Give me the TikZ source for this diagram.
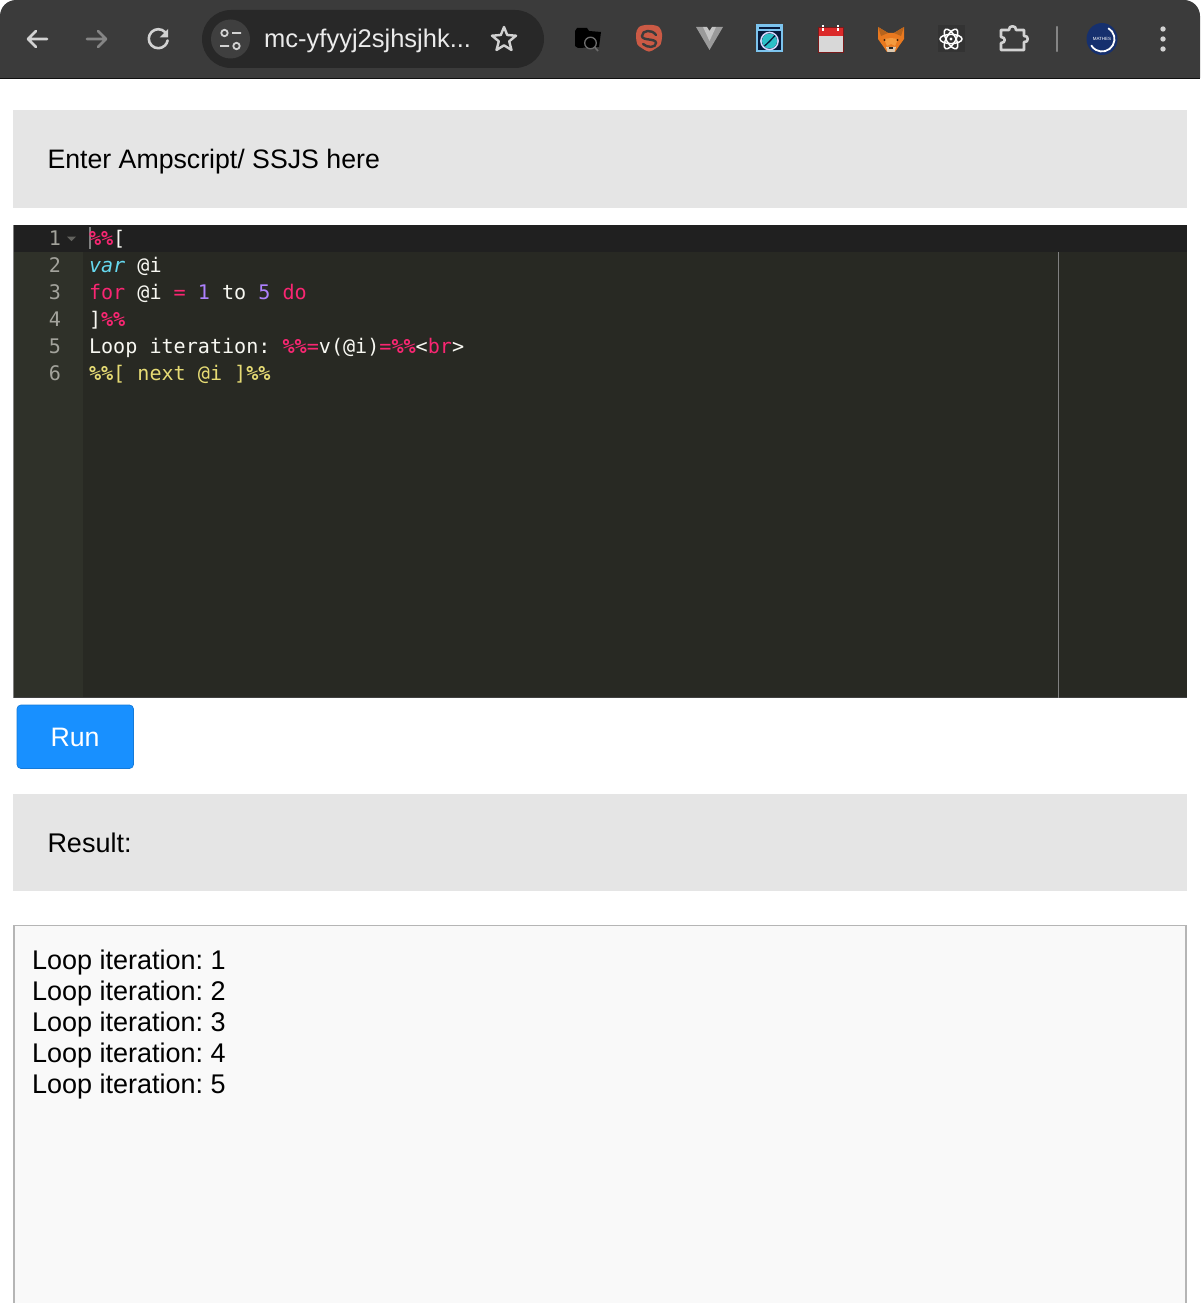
\documentclass[tikz,border=0pt]{standalone}
\usepackage{fontspec}
\setmainfont{Liberation Sans}
\newfontfamily\codefont{DejaVu Sans Mono}
\definecolor{barbg}{HTML}{3B3B3B}
\definecolor{pillbg}{HTML}{282828}
\definecolor{pillcirc}{HTML}{3F3F3F}
\definecolor{iconfg}{HTML}{D2D2D2}
\definecolor{icondim}{HTML}{858585}
\definecolor{headbg}{HTML}{E5E5E5}
\definecolor{edbg}{HTML}{282923}
\definecolor{gutter}{HTML}{2F3129}
\definecolor{activeln}{HTML}{202020}
\definecolor{lnnum}{HTML}{A3A39C}
\definecolor{mpink}{HTML}{F92672}
\definecolor{mblue}{HTML}{66D9EF}
\definecolor{mpurple}{HTML}{AE81FF}
\definecolor{myellow}{HTML}{E6DB74}
\definecolor{mwhite}{HTML}{F8F8F2}
\definecolor{runblue}{HTML}{1890FF}
\definecolor{resultbg}{HTML}{F9F9F9}
\definecolor{resultbd}{HTML}{B5B5B5}
\definecolor{shieldc}{HTML}{CB5A45}
\definecolor{vouter}{HTML}{9A9A9A}
\definecolor{vinner}{HTML}{C4C4C4}
\definecolor{winblue}{HTML}{7CC4EE}
\definecolor{windark}{HTML}{071A3C}
\definecolor{winteal}{HTML}{2CC0C8}
\definecolor{calgrey}{HTML}{D8D8D8}
\definecolor{calred}{HTML}{DB2A2A}
\definecolor{calrim}{HTML}{7A1A1A}
\definecolor{foxa}{HTML}{E9791F}
\definecolor{foxb}{HTML}{F59A3E}
\definecolor{foxd}{HTML}{B8641C}
\definecolor{foxc}{HTML}{DCC8AF}
\definecolor{atombg}{HTML}{333333}
\definecolor{avatarc}{HTML}{16306E}
\tikzset{
  x=1pt,y=-1pt,
  lbl/.style={anchor=base west,inner sep=0pt,outer sep=0pt,font=\fontsize{26.7}{27}\selectfont\frenchspacing,text=black},
  reslbl/.style={anchor=base west,inner sep=0pt,outer sep=0pt,font=\fontsize{27}{27}\selectfont\frenchspacing,text=black},
  lnlbl/.style={anchor=base east,inner sep=0pt,outer sep=0pt,font=\codefont\fontsize{20.1}{20}\selectfont,text=lnnum},
  codelbl/.style={anchor=base west,inner sep=0pt,outer sep=0pt,font=\codefont\fontsize{20.1}{20}\selectfont\frenchspacing,text=mwhite},
  navicon/.style={draw=iconfg,line width=2.6pt,line cap=round,line join=round},
}
\newcommand{\pk}[1]{\textcolor{mpink}{#1}}
\newcommand{\pu}[1]{\textcolor{mpurple}{#1}}
\newcommand{\pcts}{{\bfseries\%\%}}
\begin{document}
\begin{tikzpicture}
\useasboundingbox (0,0) rectangle (1200,1303);
\fill[white] (0,0) rectangle (1200,1303);
% browser bar
\fill[barbg] (0,78) -- (0,16) arc[start angle=180,end angle=270,radius=16] -- (1184,0) arc[start angle=270,end angle=360,radius=16] -- (1200,78) -- cycle;
\fill[black!75!barbg] (0,78) rectangle (1200,79.5);
% nav icons
\draw[navicon] (47,39) -- (28,39) (36,31) -- (28,39) -- (36,47);
\draw[navicon,draw=icondim] (87,39) -- (106,39) (98,31) -- (106,39) -- (98,47);
\draw[navicon] (165,32) arc[start angle=-45,end angle=-350,radius=9.5];
\fill[iconfg] (168,29) -- (168,37.5) -- (159.5,37.5) -- cycle;
% pill
\fill[pillbg,rounded corners=28.9pt] (202,10) rectangle (544,68);
\fill[pillcirc] (230.5,39) circle[radius=19.5];
\draw[iconfg,line width=1.8pt] (224.5,33) circle[radius=3.2] (232,33) -- (241,33) (220,46) -- (229,46) (236.5,46) circle[radius=3.2];
\node[anchor=base west,inner sep=0pt,font=\fontsize{25.5}{25}\selectfont,text=white!92!black] (url) at (264,47.5) {mc-yfyyj2sjhsjhk...};
\draw[iconfg,line width=2.4pt,line join=round] (504,27) -- (507.2,35) -- (516,35.7) -- (509.2,41.3) -- (511.5,50) -- (504,45.3) -- (496.5,50) -- (498.8,41.3) -- (492,35.7) -- (500.8,35) -- cycle;
% folder
\fill[black] (575,31) -- (577,28) -- (587,28) -- (589,31) -- (601,32) -- (599,47) -- (578,48) -- (575,46) -- cycle;
\draw[barbg!75!white,fill=black,line width=1.3pt] (590.5,43) circle[radius=5.8];
\draw[barbg!75!white,line width=1.6pt] (594.7,47.2) -- (598,51);
% shield S
\fill[shieldc,rounded corners=4pt] (636,30) .. controls (642,24) and (656,24) .. (662,30) -- (662,41) .. controls (660,46) and (653,50) .. (649,53) .. controls (645,50) and (638,46) .. (636,41) -- cycle;
\draw[barbg,line width=2.4pt,line cap=round] (656,35) .. controls (652,29) and (642,30) .. (642,36) .. controls (642,41) and (656,38) .. (656,43) .. controls (656,48) and (647,48) .. (643,44);
% V
\fill[vouter] (696,27) -- (703,27) -- (709.5,36) -- (716,27) -- (723,27) -- (709.5,50) -- cycle;
\fill[vinner] (703,27) -- (707,27) -- (709.5,31) -- (712,27) -- (716,27) -- (709.5,41) -- cycle;
% blue window icon
\fill[winblue] (756,24.5) rectangle (783,52.5);
\fill[windark] (758,31) rectangle (781,50.5);
\draw[windark,line width=1.4pt] (759,28) -- (780,28);
\fill[winteal] (769.5,41) circle[radius=7.5];
\draw[white!85!blue,line width=1.5pt] (769.5,41) circle[radius=8.6];
\draw[windark,line width=1.3pt] (764.5,46) .. controls (768,43) and (771,40) .. (775,35.5);
% calendar
\fill[calgrey] (818,27) rectangle (843,52);
\fill[calred] (818,27) rectangle (843,36);
\draw[white,line width=1.4pt] (823,25) -- (823,31) (838,25) -- (838,31);
\draw[calrim,line width=0.9pt] (818,27) rectangle (843,52.5);
% fox
\fill[foxa] (878,27) -- (888,33) -- (894,33) -- (904,27) -- (904,39) -- (899,46) -- (895,52) -- (887,52) -- (883,46) -- (878,39) -- cycle;
\fill[foxd] (878,27) -- (881,36) -- (888,33) -- cycle (904,27) -- (901,36) -- (894,33) -- cycle;
\fill[foxb] (891,38) -- (898,39) -- (895,46) -- (891,44) -- (887,46) -- (884,39) -- cycle;
\fill[black!70!foxa] (884.5,40) circle[radius=1.2] (897.5,40) circle[radius=1.2];
\fill[foxc] (886,47) -- (896,47) -- (894.5,52) -- (887.5,52) -- cycle;
\fill[black!85] (889,47.5) rectangle (893,49.3);
% atom
\fill[atombg] (938,25) rectangle (965,52);
\begin{scope}[shift={(951,39)}]
\draw[white,line width=1.5pt] (0,0) ellipse[x radius=11,y radius=4.6];
\draw[white,line width=1.5pt,rotate=60] (0,0) ellipse[x radius=11,y radius=4.6];
\draw[white,line width=1.5pt,rotate=120] (0,0) ellipse[x radius=11,y radius=4.6];
\fill[white] (0,0) circle[radius=1.6];
\end{scope}
% puzzle
\draw[iconfg,line width=2.6pt,line join=round] (1001,30) -- (1009,30) .. controls (1008,25) and (1017,25) .. (1016,30) -- (1024,30) -- (1024,36) .. controls (1029,35) and (1029,43) .. (1024,42) -- (1024,50) -- (1001,50) -- (1001,43) .. controls (1006,43) and (1006,37) .. (1001,37) -- cycle;
\draw[icondim,line width=2.4pt,line cap=round] (1057,27) -- (1057,51);
% avatar
\fill[avatarc] (1102,39) ellipse[x radius=15.5,y radius=16];
\draw[white,line width=1.8pt] (1102,39) ++(-60:12.5) arc[start angle=-60,end angle=150,radius=12.5];
\node[inner sep=0pt,font=\fontsize{4.5}{5}\selectfont,text=white] (avatar) at (1102,39) {MATHES};
\foreach \yy in {29,39,49} \fill[iconfg] (1163,\yy) circle[radius=2.7];
% heading 1
\fill[headbg] (13,110) rectangle (1187,208);
\node[lbl] (head) at (47.5,168) {Enter Ampscript/ SSJS here};
% editor
\fill[edbg] (13.5,225) rectangle (1186.5,697.5);
\fill[gutter] (13.5,225) rectangle (83,697.5);
\fill[activeln] (13.5,225) rectangle (1186.5,252);
\draw[gray,line width=.8pt] (13.5,225) -- (13.5,697.5);
\draw[black!75,line width=.8pt] (13.5,697.5) -- (1186.5,697.5);
\draw[gray,line width=.9pt] (1058,252) -- (1058,697.5);
\fill[gray] (89,227) rectangle (91,249);
\fill[lnnum!60!black] (67,236.5) -- (76,236.5) -- (71.5,241) -- cycle;
\foreach \n/\yy in {1/245,2/272,3/299,4/326,5/353,6/380}
  \node[lnlbl] (ln\n) at (61,\yy) {\n};
\node[codelbl] (c1) at (89,245) {\pk{\pcts}[};
\node[codelbl] (c2) at (89,272) {\textcolor{mblue}{\itshape var} @i};
\node[codelbl] (c3) at (89,299) {\pk{for} @i \pk{=} \pu{1} to \pu{5} \pk{do}};
\node[codelbl] (c4) at (89,326) {]\pk{\pcts}};
\node[codelbl] (c5) at (89,353) {Loop iteration: \pk{\pcts=}v(@i)\pk{=\pcts}<\pk{br}>};
\node[codelbl,text=myellow] (c6) at (89,380) {\pcts[ next @i ]\pcts};
% run
\draw[fill=runblue,draw=runblue!85!black,line width=.7pt,rounded corners=4pt] (17,705) rectangle (133.5,768.5);
\node[inner sep=0pt,anchor=base,font=\fontsize{26.7}{27}\selectfont,text=white] (run) at (75,746.5) {Run};
% heading 2
\fill[headbg] (13,794) rectangle (1187,891);
\node[reslbl] (res) at (47.5,852) {Result:};
% result
\draw[fill=resultbg,draw=resultbd,line width=1.2pt] (14,1310) -- (14,925.5) -- (1186,925.5) -- (1186,1310);
\foreach \n/\yy in {1/969,2/1000,3/1031,4/1062,5/1093}
  \node[reslbl] (r\n) at (32,\yy) {Loop iteration: \n};
\end{tikzpicture}
\end{document}
